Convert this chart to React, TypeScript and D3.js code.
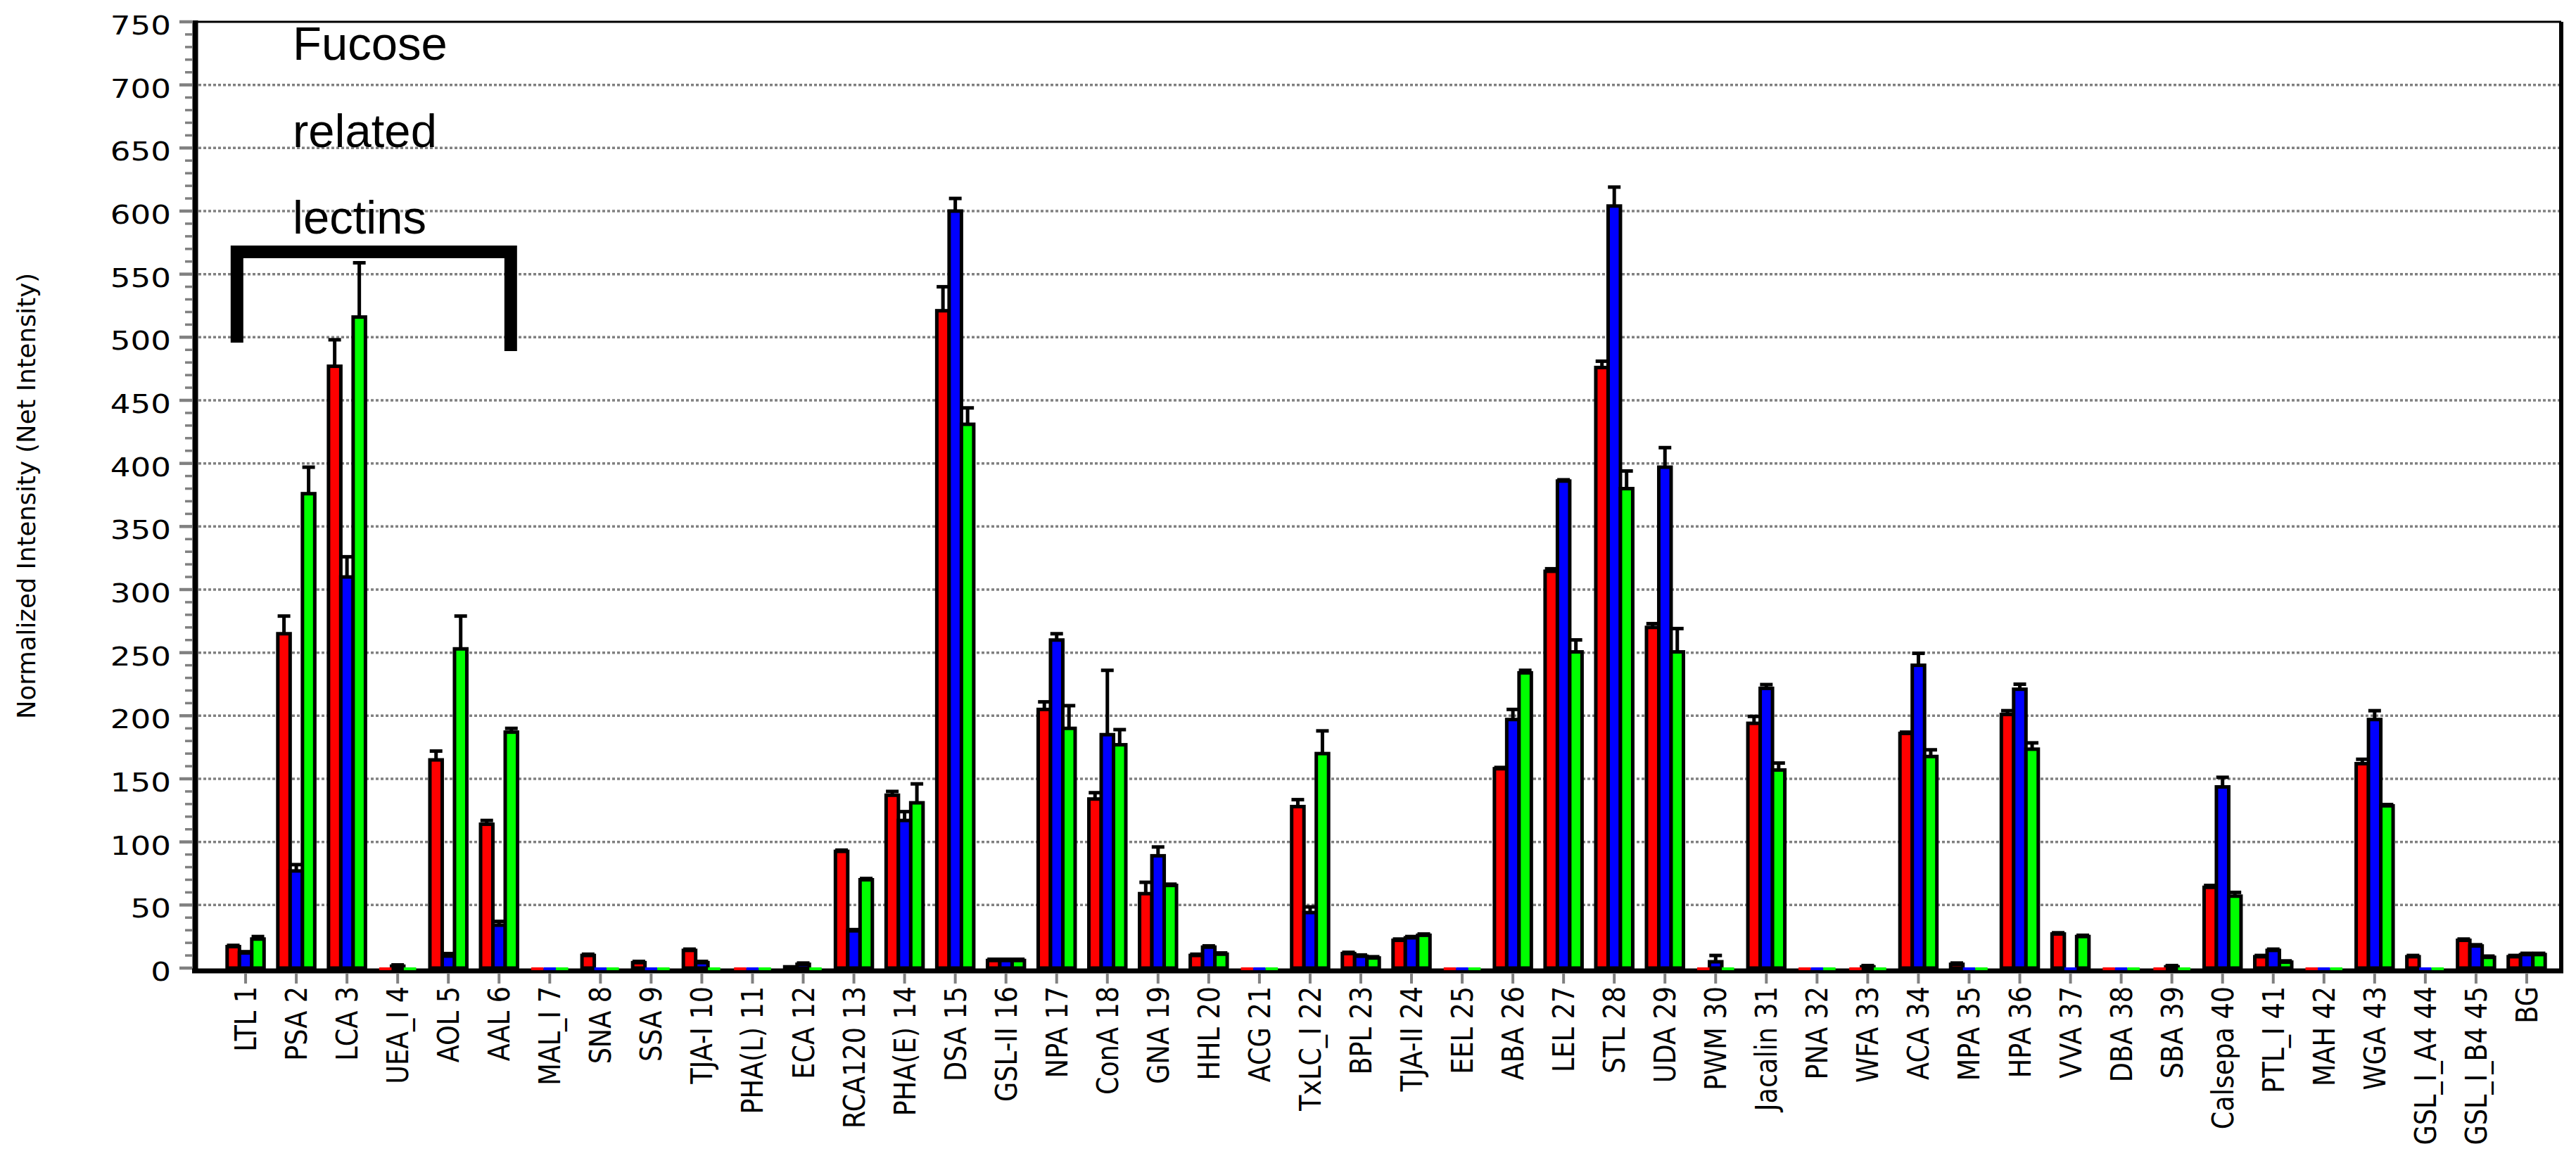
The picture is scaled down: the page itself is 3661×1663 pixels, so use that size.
import { useRef, useEffect } from "react";
import * as d3 from "d3";

// Lectin array: three samples per lectin (red, blue, green)
const categories = [
  "LTL 1", "PSA 2", "LCA 3", "UEA_I 4", "AOL 5", "AAL 6", "MAL_I 7", "SNA 8",
  "SSA 9", "TJA-I 10", "PHA(L) 11", "ECA 12", "RCA120 13", "PHA(E) 14", "DSA 15",
  "GSL-II 16", "NPA 17", "ConA 18", "GNA 19", "HHL 20", "ACG 21", "TxLC_I 22",
  "BPL 23", "TJA-II 24", "EEL 25", "ABA 26", "LEL 27", "STL 28", "UDA 29",
  "PWM 30", "Jacalin 31", "PNA 32", "WFA 33", "ACA 34", "MPA 35", "HPA 36",
  "VVA 37", "DBA 38", "SBA 39", "Calsepa 40", "PTL_I 41", "MAH 42", "WGA 43",
  "GSL_I_A4 44", "GSL_I_B4 45", "BG",
];

const redValues = [
  17, 265, 477, 0, 165, 114, 0, 10, 4.3, 14, 0, 1, 92.5, 137, 521, 6, 205, 134,
  59, 10, 0, 128, 11.5, 22, 0, 158, 314.5, 476, 270, 0, 194, 0, 0, 186, 3, 201,
  27, 0, 0, 64, 9, 0, 162, 9, 22, 9,
];
const blueValues = [
  12, 77, 310, 1.5, 9.5, 34, 0, 0, 0, 4.3, 0, 3, 29.5, 117, 600, 6, 260, 185,
  89, 16.6, 0, 44, 9.4, 24, 0, 197, 386, 604, 397, 5, 221.7, 0, 1, 240, 0, 221,
  0, 0, 1, 143.6, 14, 0, 197, 0, 17.5, 10.7,
];
const greenValues = [
  23, 376, 516, 0, 253, 187, 0, 0, 0, 0, 0, 0, 70, 131, 431, 6, 190, 177, 65.5,
  11, 0, 170, 8, 26, 0, 234, 250.6, 380, 250.6, 0, 157, 0, 0, 167.7, 0, 173.5,
  25, 0, 0, 57, 4.7, 0, 128.6, 0, 8.5, 10.7,
];

const redErrors = [
  1, 14, 21, 0, 7, 3, 0, 1, 1, 1, 0, 0, 1, 3, 19, 1, 6, 5, 9, 1, 0, 5.5, 1, 1,
  0, 1, 2, 5, 3, 0, 5.5, 0, 0, 1, 1, 3, 1, 0, 0, 1.5, 1, 0, 3.5, 1, 1, 1,
];
const blueErrors = [
  1, 5, 16, 1, 2, 3, 0, 0, 0, 1, 0, 1, 1, 7, 10, 1, 5, 51, 7, 1, 0, 4.5, 1, 1,
  0, 8, 1, 15, 15.5, 5, 3, 0, 1, 9.5, 0, 4, 0, 0, 1, 7.6, 1, 0, 7, 0, 1, 1,
];
const greenErrors = [
  2, 21, 43, 0, 26, 3, 0, 0, 0, 0, 0, 0, 1, 15, 13, 1, 18, 12, 1, 1, 0, 18, 1, 1,
  0, 2, 9.5, 14, 18.5, 0, 5.5, 0, 0, 5.3, 0, 5, 1, 0, 0, 3, 1, 0, 1, 0, 1, 1,
];

const seriesColors = ["#ff0000", "#0000ff", "#00ff00"];

// Annotation: bracket over the fucose related lectins (data units)
const bracketPoints: [number, number][] = [
  [0.83, 495.7],
  [0.83, 567.7],
  [6.23, 567.7],
  [6.23, 489],
];
const noteLines = ["Fucose", "related", "lectins"];
const noteBaselines = [720, 651, 582];
const noteX = 1.93;

const WIDTH = 3661;
const HEIGHT = 1663;
const plotRight = 3640;

export default function App() {
  const ref = useRef<SVGSVGElement>(null);

  useEffect(() => {
    if (!ref.current) return;
    const svg = d3.select(ref.current);
    svg.selectAll("*").remove();

    const x = d3.scaleLinear().domain([0, 47]).range([277, 3663]);
    const y = d3.scaleLinear().domain([0, 750]).range([1376, 31]);

    const gray = "#808080";
    const barStep = 17.5;

    // Dotted gridlines
    const grid = svg.append("g");
    d3.range(50, 750, 50).forEach((v) => {
      grid
        .append("line")
        .attr("x1", x(0) + 5)
        .attr("x2", plotRight)
        .attr("y1", y(v))
        .attr("y2", y(v))
        .attr("stroke", gray)
        .attr("stroke-width", 3.5)
        .attr("stroke-dasharray", "4 3");
    });

    // Bars
    const series = [redValues, blueValues, greenValues];
    const errors = [redErrors, blueErrors, greenErrors];
    const bars = svg.append("g");
    const slivers = svg.append("g");
    categories.forEach((_, i) => {
      series.forEach((vals, s) => {
        const v = vals[i];
        const cx = x(i + 1) + (s - 1) * barStep;
        if (v > 0) {
          bars
            .append("rect")
            .attr("x", cx - barStep / 2)
            .attr("y", y(v))
            .attr("width", barStep)
            .attr("height", y(0) - y(v))
            .attr("fill", seriesColors[s])
            .attr("stroke", "#000")
            .attr("stroke-width", 5);
        } else {
          slivers
            .append("rect")
            .attr("x", cx - barStep / 2)
            .attr("y", y(0) - 1)
            .attr("width", barStep)
            .attr("height", 4)
            .attr("fill", seriesColors[s]);
        }
      });
    });

    // Error bars (upper only)
    categories.forEach((_, i) => {
      series.forEach((vals, s) => {
        const v = vals[i];
        const e = errors[s][i];
        if (e <= 0) return;
        const cx = x(i + 1) + (s - 1) * barStep;
        bars
          .append("line")
          .attr("x1", cx)
          .attr("x2", cx)
          .attr("y1", y(v))
          .attr("y2", y(v + e))
          .attr("stroke", "#000")
          .attr("stroke-width", 5);
        bars
          .append("line")
          .attr("x1", cx - 9)
          .attr("x2", cx + 9)
          .attr("y1", y(v + e))
          .attr("y2", y(v + e))
          .attr("stroke", "#000")
          .attr("stroke-width", 5);
      });
    });

    // Frame and axes
    const frame = svg.append("g").attr("stroke", "#000");
    frame
      .append("line")
      .attr("x1", x(0))
      .attr("x2", plotRight)
      .attr("y1", y(750))
      .attr("y2", y(750))
      .attr("stroke-width", 3);
    frame
      .append("line")
      .attr("x1", plotRight)
      .attr("x2", plotRight)
      .attr("y1", y(750))
      .attr("y2", y(0) + 4)
      .attr("stroke-width", 6);
    frame
      .append("line")
      .attr("x1", x(0) - 4)
      .attr("x2", plotRight + 3)
      .attr("y1", y(0) + 4)
      .attr("y2", y(0) + 4)
      .attr("stroke-width", 7);
    frame
      .append("line")
      .attr("x1", x(0) + 0.5)
      .attr("x2", x(0) + 0.5)
      .attr("y1", y(750) - 2)
      .attr("y2", y(0) + 7)
      .attr("stroke-width", 8);

    svg.node()!.appendChild(slivers.node()!);

    // Y ticks
    const yTicks = svg.append("g").attr("stroke", gray);
    d3.range(0, 751, 10).forEach((v) => {
      const major = v % 50 === 0;
      yTicks
        .append("line")
        .attr("x1", major ? 255 : 263)
        .attr("x2", x(0) - 4)
        .attr("y1", y(v))
        .attr("y2", y(v))
        .attr("stroke-width", major ? 4.5 : 3.5);
    });

    const yLabels = svg
      .append("g")
      .attr("font-family", "'DejaVu Sans', Verdana, sans-serif")
      .attr("font-size", 37)
      .attr("fill", "#000");
    d3.range(0, 751, 50).forEach((v) => {
      yLabels
        .append("text")
        .attr("transform", `translate(243, ${y(v) + 18}) scale(1.22, 1)`)
        .attr("text-anchor", "end")
        .text(String(v));
    });

    // X ticks and labels
    const xTicks = svg.append("g").attr("stroke", gray);
    categories.forEach((_, i) => {
      xTicks
        .append("line")
        .attr("x1", x(i + 1))
        .attr("x2", x(i + 1))
        .attr("y1", y(0) + 7)
        .attr("y2", y(0) + 22)
        .attr("stroke-width", 4);
    });

    const xLabels = svg
      .append("g")
      .attr("font-family", "'DejaVu Sans', Verdana, sans-serif")
      .attr("font-size", 42)
      .attr("fill", "#000");
    categories.forEach((c, i) => {
      xLabels
        .append("text")
        .attr(
          "transform",
          `translate(${x(i + 1) + 15}, ${y(0) + 26}) rotate(-90) scale(0.87, 1)`,
        )
        .attr("text-anchor", "end")
        .text(c);
    });

    // Y axis title
    svg
      .append("text")
      .attr("transform", `translate(50, 705) rotate(-90)`)
      .attr("text-anchor", "middle")
      .attr("font-family", "'DejaVu Sans', Verdana, sans-serif")
      .attr("font-size", 36)
      .attr("textLength", 634)
      .attr("lengthAdjust", "spacingAndGlyphs")
      .text("Normalized Intensity (Net Intensity)");

    // Bracket annotation
    const bracket = d3
      .line<[number, number]>()
      .x((d) => x(d[0]))
      .y((d) => y(d[1]));
    svg
      .append("path")
      .attr("d", bracket(bracketPoints))
      .attr("fill", "none")
      .attr("stroke", "#000")
      .attr("stroke-width", 18)
      .attr("stroke-linejoin", "miter");

    noteLines.forEach((t, k) => {
      svg
        .append("text")
        .attr("x", x(noteX))
        .attr("y", y(noteBaselines[k]))
        .attr("font-family", "'Liberation Sans', Arial, sans-serif")
        .attr("font-size", 67)
        .attr("fill", "#000")
        .text(t);
    });
  }, []);

  return (
    <svg
      ref={ref}
      width={WIDTH}
      height={HEIGHT}
      style={{ position: "absolute", left: 0, top: 0, background: "#fff" }}
    />
  );
}
